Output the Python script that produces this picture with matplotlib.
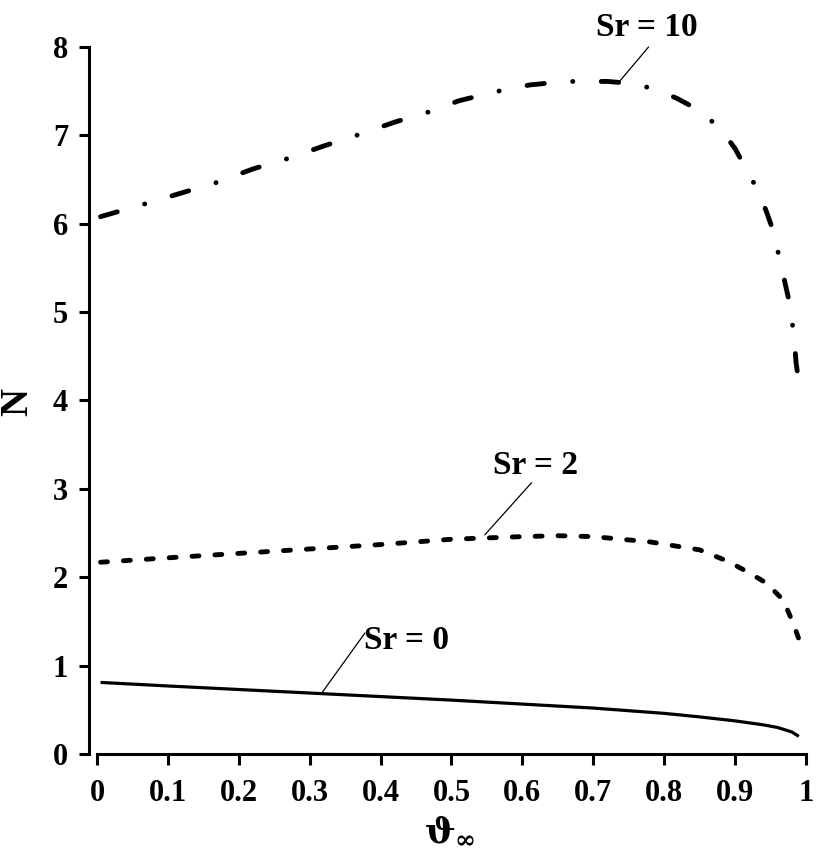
import matplotlib
matplotlib.use('Agg')
import matplotlib.pyplot as plt

# values
x_sr0 = [0.005, 0.1, 0.2, 0.3, 0.4, 0.5, 0.6, 0.7, 0.8, 0.85, 0.9, 0.94, 0.96, 0.98, 0.99]
y_sr0 = [0.81, 0.77, 0.73, 0.69, 0.65, 0.61, 0.565, 0.52, 0.46, 0.42, 0.375, 0.33, 0.30, 0.25, 0.20]

x_sr2 = [0.005, 0.1, 0.2, 0.3, 0.4, 0.5, 0.6, 0.65, 0.7, 0.78, 0.85, 0.89, 0.92, 0.945, 0.968, 0.982, 0.99]
y_sr2 = [2.17, 2.22, 2.27, 2.32, 2.37, 2.43, 2.46, 2.47, 2.46, 2.40, 2.31, 2.18, 2.05, 1.93, 1.74, 1.48, 1.30]

x_sr10 = [0.005, 0.07, 0.12, 0.17, 0.22, 0.27, 0.32, 0.37, 0.42, 0.47, 0.51, 0.56, 0.61, 0.66,
          0.72, 0.75, 0.79, 0.82, 0.85, 0.88, 0.90, 0.915, 0.934, 0.945, 0.955, 0.963, 0.975,
          0.983, 0.986, 0.99]
y_sr10 = [6.08, 6.23, 6.35, 6.47, 6.62, 6.74, 6.88, 7.01, 7.15, 7.27, 7.39, 7.49, 7.57, 7.61,
          7.61, 7.59, 7.52, 7.41, 7.28, 7.07, 6.85, 6.63, 6.35, 6.12, 5.89, 5.59, 5.17,
          4.75, 4.43, 4.20]

x_ticks = [0, 0.1, 0.2, 0.3, 0.4, 0.5, 0.6, 0.7, 0.8, 0.9, 1]
x_tick_labels = ['0', '0.1', '0.2', '0.3', '0.4', '0.5', '0.6', '0.7', '0.8', '0.9', '1']
y_ticks = [0, 1, 2, 3, 4, 5, 6, 7, 8]

plt.rcParams['font.family'] = ['Liberation Serif', 'DejaVu Serif']
plt.rcParams['font.weight'] = 'bold'
plt.rcParams['mathtext.fontset'] = 'custom'
plt.rcParams['mathtext.rm'] = 'DejaVu Serif:bold'
plt.rcParams['mathtext.it'] = 'DejaVu Serif:bold'
plt.rcParams['mathtext.bf'] = 'DejaVu Serif:bold'
plt.rcParams['mathtext.fallback'] = 'stix'
plt.rcParams['lines.scale_dashes'] = False

fig = plt.figure(figsize=(8.22, 8.65), dpi=100)
ax = fig.add_axes([0.118, 0.1283, 0.8625, 0.8174])

ax.plot(x_sr0, y_sr0, color='black', lw=2.3, solid_capstyle='butt')
ax.plot(x_sr2, y_sr2, color='black', lw=3.5, linestyle=(0, (5.0, 11.5)),
        dash_capstyle='round')
ax.plot(x_sr10, y_sr10, color='black', lw=3.5, linestyle=(0, (12.5, 20.5, 0.1, 20.5)),
        dash_capstyle='round')

# labels with leader lines
label_font = dict(fontsize=24, fontweight='bold', ha='center', va='center')
ax.text(0.776, 8.22, 'Sr = 10', clip_on=False, **label_font)
ax.annotate('', xy=(0.738, 7.62), xytext=(0.778, 8.0), annotation_clip=False,
            arrowprops=dict(arrowstyle='-', lw=0.9, color='black', shrinkA=0, shrinkB=0))
ax.text(0.618, 3.27, 'Sr = 2', **label_font)
ax.annotate('', xy=(0.547, 2.48), xytext=(0.613, 3.07),
            arrowprops=dict(arrowstyle='-', lw=0.9, color='black', shrinkA=0, shrinkB=0))
ax.text(0.437, 1.29, 'Sr = 0', **label_font)
ax.annotate('', xy=(0.317, 0.69), xytext=(0.378, 1.37),
            arrowprops=dict(arrowstyle='-', lw=0.9, color='black', shrinkA=0, shrinkB=0))

ax.set_xlim(0, 1)
ax.set_ylim(0, 8)
ax.set_xticks(x_ticks)
ax.set_xticklabels(x_tick_labels)
ax.set_yticks(y_ticks)

ax.spines['top'].set_visible(False)
ax.spines['right'].set_visible(False)
ax.spines['left'].set_position(('outward', 5.8))
ax.spines['left'].set_linewidth(2.2)
ax.spines['bottom'].set_linewidth(2.2)
ax.tick_params(axis='x', direction='out', length=8, width=2.2, pad=10, labelsize=22)
ax.tick_params(axis='y', direction='out', length=7, width=2.2, pad=8, labelsize=22)

ax.set_ylabel('N', fontsize=28, fontweight='bold')
ax.yaxis.set_label_coords(-0.086, 0.498)
ax.set_xlabel(r'$\vartheta_{\infty}$', fontsize=26)
ax.xaxis.set_label_coords(0.498, -0.088)

fig.savefig('out.png', dpi=100)
